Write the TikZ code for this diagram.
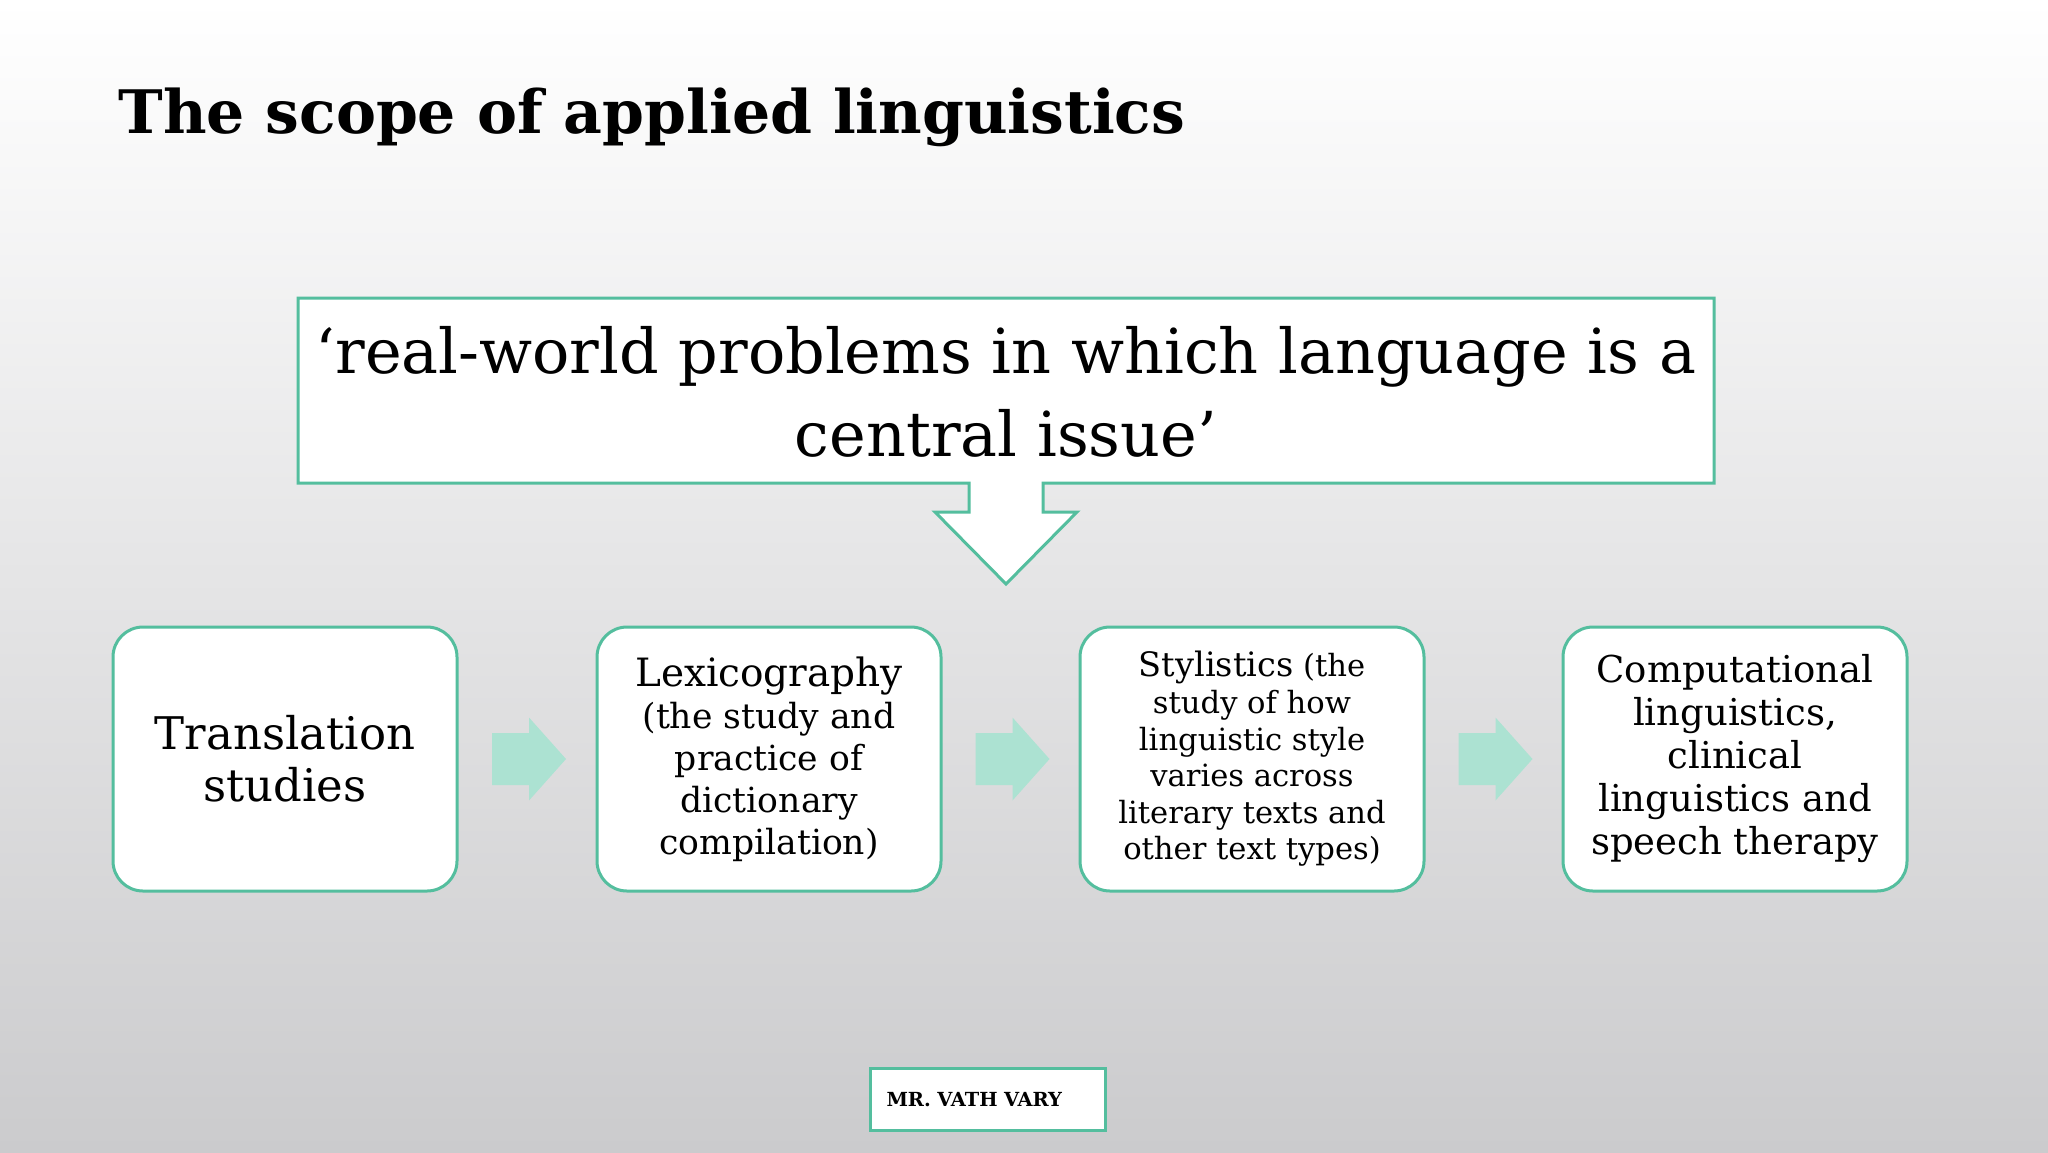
\documentclass[tikz,border=0pt]{standalone}
\usepackage{fontspec}
\setmainfont{DejaVu Serif}
\usetikzlibrary{calc}
\definecolor{tealline}{RGB}{84,190,158}
\definecolor{mintarrow}{RGB}{172,226,210}
\definecolor{bggray}{RGB}{203,203,205}
\tikzset{
  stagebox/.style={draw=tealline, line width=1.5pt, fill=white, rounded corners=15pt,
    minimum width=172pt, minimum height=132pt, align=center, inner sep=4pt},
  footbox/.style={draw=tealline, line width=1.5pt, fill=white, anchor=north west,
    text width=101.5pt, inner xsep=8pt, minimum height=31pt, align=left,
    font=\bfseries\fontsize{9.7}{12}\selectfont},
}
\begin{document}
\begin{tikzpicture}[x=0.5pt,y=-0.5pt]
	% background
	\shade[top color=white, middle color=gray!7, bottom color=bggray] (0,0) rectangle (2048,1152);
	\useasboundingbox (0,0) rectangle (2048,1152);
	% title
	\node[anchor=base west, inner sep=0pt, font=\bfseries\fontsize{30}{36}\selectfont] (title) at (118,133) {The scope of applied linguistics};
	% callout with its arrow
	\draw[tealline, line width=1.5pt, fill=white] (298,298) -- (1714,298) -- (1714,483) -- (1043,483) -- (1043,512) -- (1077,512)
		-- (1006,584) -- (935,512) -- (969,512) -- (969,483) -- (298,483) -- cycle;
	\node[align=center, font=\fontsize{31}{41.5}\selectfont] (quote) at (1006,392) {‘real-world problems in which language is a\\ central issue’};
	% the four fields
	\node[stagebox, font=\fontsize{22.5}{26}\selectfont] (trans) at (285,759) {Translation\\ studies};
	\node[stagebox, font=\fontsize{17.3}{21}\selectfont] (lexi) at (769,759) {{\fontsize{19.5}{21}\selectfont Lexicography}\\ (the study and\\ practice of\\ dictionary\\ compilation)};
	\node[stagebox, font=\fontsize{15.3}{18.3}\selectfont] (styl) at (1252,759) {{\fontsize{16.8}{18.3}\selectfont Stylistics} (the\\ study of how\\ linguistic style\\ varies across\\ literary texts and\\ other text types)};
	\node[stagebox, font=\fontsize{18.5}{21.5}\selectfont] (comp) at (1735,759) {Computational\\ linguistics,\\ clinical\\ linguistics and\\ speech therapy};
	\foreach \a/\b in {trans/lexi, lexi/styl, styl/comp}
		\fill[mintarrow] ($(\a.east)!0.5!(\b.west)$) ++(-35,-26) -- ++(37,0) -- ++(0,-15.5) -- ++(37,41.5)
			-- ++(-37,41.5) -- ++(0,-15.5) -- ++(-37,0) -- cycle;
	% footer
	\node[footbox] (author) at (869,1067) {MR. VATH VARY};
\end{tikzpicture}
\end{document}
